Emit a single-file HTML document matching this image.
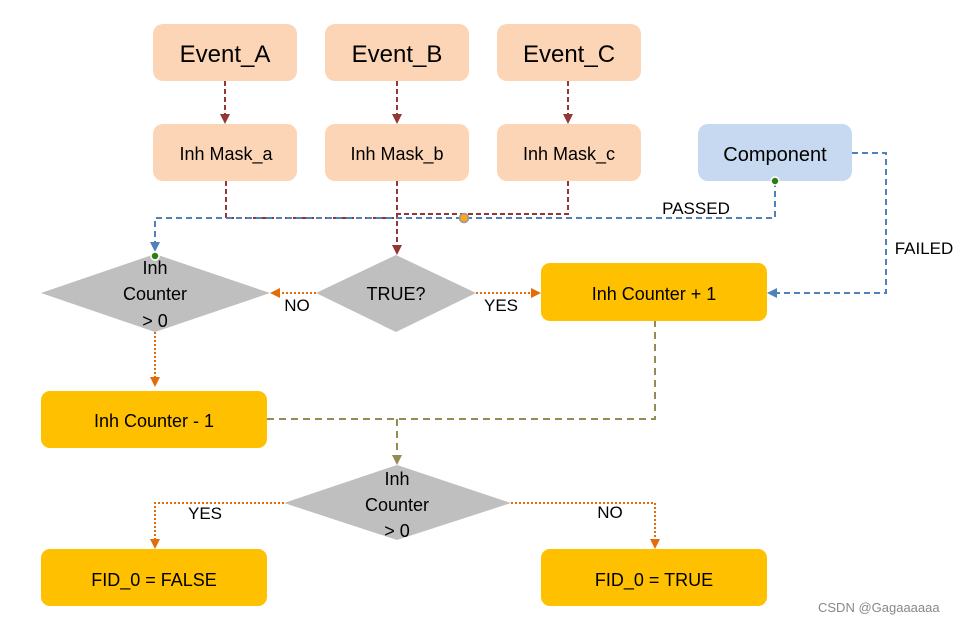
<!DOCTYPE html>
<html><head><meta charset="utf-8"><style>
html,body{margin:0;padding:0;background:#fff}
text{font-family:"Liberation Sans","DejaVu Sans",sans-serif;fill:#000}
</style></head><body>
<svg width="961" height="624" xmlns="http://www.w3.org/2000/svg">
<defs>
<marker id="ar" markerWidth="10" markerHeight="10" refX="8" refY="5" orient="auto" markerUnits="userSpaceOnUse"><path d="M0,0 L10,5 L0,10 Z" fill="#943634"/></marker>
<marker id="ao" markerWidth="10" markerHeight="10" refX="8" refY="5" orient="auto" markerUnits="userSpaceOnUse"><path d="M0,0 L10,5 L0,10 Z" fill="#e36c0a"/></marker>
<marker id="ab" markerWidth="10" markerHeight="10" refX="8" refY="5" orient="auto" markerUnits="userSpaceOnUse"><path d="M0,0 L10,5 L0,10 Z" fill="#4f81bd"/></marker>
<marker id="ag" markerWidth="10" markerHeight="10" refX="8" refY="5" orient="auto" markerUnits="userSpaceOnUse"><path d="M0,0 L10,5 L0,10 Z" fill="#948a54"/></marker>
</defs>
<g fill="#fbd5b5">
<rect x="153" y="24" width="144" height="57" rx="10"/>
<rect x="325" y="24" width="144" height="57" rx="10"/>
<rect x="497" y="24" width="144" height="57" rx="10"/>
<rect x="153" y="124" width="144" height="57" rx="10"/>
<rect x="325" y="124" width="144" height="57" rx="10"/>
<rect x="497" y="124" width="144" height="57" rx="10"/>
</g>
<rect x="698" y="124" width="154" height="57" rx="10" fill="#c6d9f0"/>
<g fill="#ffc000">
<rect x="541" y="263" width="226" height="58" rx="9"/>
<rect x="41" y="391" width="226" height="57" rx="9"/>
<rect x="41" y="549" width="226" height="57" rx="9"/>
<rect x="541" y="549" width="226" height="57" rx="9"/>
</g>
<g fill="#bfbfbf">
<polygon points="41,293 155,254 270,293 155,332"/>
<polygon points="316,293 396,255 476,293 396,332"/>
<polygon points="284,503 397,465 511,503 397,540"/>
</g>
<g fill="none" stroke-width="2">
<g stroke="#943634" stroke-dasharray="5,3">
<path d="M225,81 V122" marker-end="url(#ar)"/>
<path d="M397,81 V122" marker-end="url(#ar)"/>
<path d="M568,81 V122" marker-end="url(#ar)"/>
<path d="M226,181 V218 H397"/>
<path d="M568,181 V214 H397"/>
<path d="M397,181 V253" marker-end="url(#ar)"/>
</g>
<g stroke="#4f81bd" stroke-dasharray="6,4">
<path d="M775,181 V218 H155 V250" marker-end="url(#ab)"/>
<path d="M852,153 H886 V293 H769" marker-end="url(#ab)"/>
</g>
<g stroke="#e36c0a" stroke-dasharray="2,2">
<path d="M316,293 H272" marker-end="url(#ao)"/>
<path d="M476,293 H539" marker-end="url(#ao)"/>
<path d="M155,332 V385" marker-end="url(#ao)"/>
<path d="M284,503 H155 V547" marker-end="url(#ao)"/>
<path d="M511,503 H655 V547" marker-end="url(#ao)"/>
</g>
<g stroke="#948a54" stroke-dasharray="7,5">
<path d="M267,419 H655 V321"/>
<path d="M397,419 V463" marker-end="url(#ag)"/>
</g>
</g>
<circle cx="464" cy="218" r="4.5" fill="#f5a623" stroke="#999" stroke-width="1.5"/>
<circle cx="775" cy="181" r="4" fill="#2e7d12" stroke="#fff" stroke-width="1.5"/>
<circle cx="155" cy="256" r="4" fill="#2e7d12" stroke="#fff" stroke-width="1.5"/>
<g text-anchor="middle">
<text x="225" y="62" font-size="24">Event_A</text>
<text x="397" y="62" font-size="24">Event_B</text>
<text x="569" y="62" font-size="24">Event_C</text>
<text x="226" y="160" font-size="18">Inh Mask_a</text>
<text x="397" y="160" font-size="18">Inh Mask_b</text>
<text x="569" y="160" font-size="18">Inh Mask_c</text>
<text x="775" y="161" font-size="20">Component</text>
<text x="155" y="274" font-size="18">Inh</text>
<text x="155" y="300" font-size="18">Counter</text>
<text x="155" y="327" font-size="18">&gt; 0</text>
<text x="396" y="300" font-size="18">TRUE?</text>
<text x="654" y="300" font-size="18">Inh Counter + 1</text>
<text x="154" y="427" font-size="18">Inh Counter - 1</text>
<text x="397" y="485" font-size="18">Inh</text>
<text x="397" y="511" font-size="18">Counter</text>
<text x="397" y="537" font-size="18">&gt; 0</text>
<text x="154" y="586" font-size="18">FID_0 = FALSE</text>
<text x="654" y="586" font-size="18">FID_0 = TRUE</text>
<text x="297" y="311" font-size="17">NO</text>
<text x="501" y="311" font-size="17">YES</text>
<text x="696" y="214" font-size="17">PASSED</text>
<text x="924" y="254" font-size="17">FAILED</text>
<text x="205" y="519" font-size="17">YES</text>
<text x="610" y="518" font-size="17">NO</text>
</g>
<text x="818" y="612" font-size="13" style="fill:#888">CSDN @Gagaaaaaa</text>
</svg>
</body></html>
